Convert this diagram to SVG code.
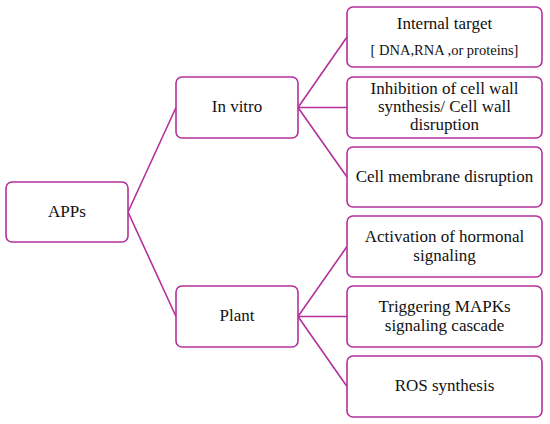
<svg xmlns="http://www.w3.org/2000/svg" width="550" height="424" viewBox="0 0 550 424">
<style>
.box{fill:#fff;stroke:#B4309C;stroke-width:1.6}
.con{stroke:#B4309C;stroke-width:1.6;fill:none}
.t{font-family:'Liberation Serif','Times New Roman',serif;font-size:17px;fill:#111;text-anchor:middle}
.sm{font-size:14.5px}
</style>
<rect width="550" height="424" fill="#fff"/>
<g id="connectors">
<path class="con" d="M128,212 L176,107.5 M128,212 L176,316.5"/>
<path class="con" d="M298,107.5 L347,37 M298,107.5 L347,107.5 M298,107.5 L347,177"/>
<path class="con" d="M298,316.5 L347,246.5 M298,316.5 L347,316.5 M298,316.5 L347,386.5"/>
</g>
<g id="apps"><rect class="box" x="6" y="182" width="122" height="60" rx="6"/><text class="t" x="67" y="217">APPs</text></g>
<g id="invitro"><rect class="box" x="176" y="77" width="122" height="61" rx="6"/><text class="t" x="237" y="112">In vitro</text></g>
<g id="plant"><rect class="box" x="176" y="286" width="122" height="61" rx="6"/><text class="t" x="237" y="321">Plant</text></g>
<g id="internal"><rect class="box" x="347" y="7" width="195" height="60" rx="6"/><text class="t" x="444.5" y="29">Internal target</text><text class="t sm" x="444.5" y="55">[ DNA,RNA ,or proteins]</text></g>
<g id="inhibition"><rect class="box" x="347" y="77" width="195" height="61" rx="6"/><text class="t" x="444.5" y="94">Inhibition of cell wall</text><text class="t" x="444.5" y="112">synthesis/ Cell wall</text><text class="t" x="444.5" y="130">disruption</text></g>
<g id="membrane"><rect class="box" x="347" y="147" width="195" height="60" rx="6"/><text class="t" x="444.5" y="182">Cell membrane disruption</text></g>
<g id="hormonal"><rect class="box" x="347" y="216" width="195" height="61" rx="6"/><text class="t" x="444.5" y="242">Activation of hormonal</text><text class="t" x="444.5" y="261">signaling</text></g>
<g id="mapk"><rect class="box" x="347" y="286" width="195" height="61" rx="6"/><text class="t" x="444.5" y="312">Triggering MAPKs</text><text class="t" x="444.5" y="331">signaling  cascade</text></g>
<g id="ros"><rect class="box" x="347" y="356" width="195" height="61" rx="6"/><text class="t" x="444.5" y="391">ROS synthesis</text></g>
</svg>
